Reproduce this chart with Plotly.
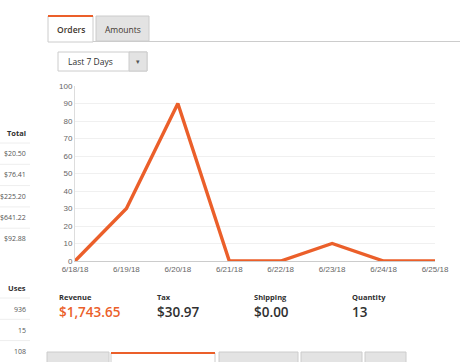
import plotly.graph_objects as go

dates = ["6/18/18", "6/19/18", "6/20/18", "6/21/18", "6/22/18", "6/23/18", "6/24/18", "6/25/18"]
orders = [0, 30, 90, 0, 0, 10, 0, 0]
y_ticks = [0, 10, 20, 30, 40, 50, 60, 70, 80, 90, 100]

tabs_top = ["Orders", "Amounts"]
period_label = "Last 7 Days"
totals = ["$20.50", "$76.41", "$225.20", "$641.22", "$92.88"]
uses = ["936", "15", "108"]
kpi_labels = ["Revenue", "Tax", "Shipping", "Quantity"]
kpi_values = ["$1,743.65", "$30.97", "$0.00", "13"]

W, H = 474, 362
L, R, T, B = 75, 435, 86, 261
ORANGE = "#eb5f2a"
UI_FONT = "Open Sans"

def px(x):
    return (x - L) / (R - L)

def py(y):
    return (B - y) / (B - T)

fig = go.Figure()
fig.add_trace(go.Scatter(
    x=list(range(len(dates))), y=orders, mode="lines",
    line=dict(color=ORANGE, width=3.4), hoverinfo="skip", showlegend=False,
))

shapes = []
ann = []

def rect(x0, y0, x1, y1, fill, line="#cccccc", lw=1):
    shapes.append(dict(type="rect", xref="paper", yref="paper",
                       x0=px(x0), x1=px(x1), y0=py(y1), y1=py(y0),
                       fillcolor=fill, line=dict(color=line, width=lw), layer="above"))

def hline(x0, x1, y, color="#e6e6e6", lw=1):
    shapes.append(dict(type="line", xref="paper", yref="paper",
                       x0=px(x0), x1=px(x1), y0=py(y), y1=py(y),
                       line=dict(color=color, width=lw), layer="above"))

def text(x, y, s, size=8, color="#333333", weight=400, xanchor="left", family=UI_FONT):
    ann.append(dict(xref="paper", yref="paper", x=px(x), y=py(y), text=s,
                    showarrow=False, xanchor=xanchor, yanchor="middle",
                    font=dict(size=size, color=color, family=family, weight=weight)))

# top tabs
hline(93, 460, 41.5, "#cccccc", 1)
rect(48, 16, 93, 42, "#ffffff", "#cccccc")
shapes.append(dict(type="rect", xref="paper", yref="paper", x0=px(48), x1=px(93), y0=py(17), y1=py(15),
                   fillcolor=ORANGE, line=dict(width=0), layer="above"))
rect(96, 16, 149, 41, "#e3e3e3", "#cccccc")
text(70.5, 29, tabs_top[0], size=8.5, color="#41362f", weight=600, xanchor="center")
text(122.5, 29, tabs_top[1], size=8.5, color="#41362f", xanchor="center")

# dropdown
rect(58, 52, 147, 71, "#ffffff", "#cccccc")
rect(129, 52, 147, 71, "#e3e3e3", "#cccccc")
text(66, 61.5, period_label, size=8.5, color="#303030")
text(138, 62, "▾", size=7, color="#555555", xanchor="center")

# left table
text(28, 133, "Total", size=7.5, color="#303030", weight=700, xanchor="right")
for i, v in enumerate(totals):
    hline(0, 30, 143 + i * 21.3, "#eeeeee")
    text(28, 153.5 + i * 21.3, v, size=7, color="#555555", xanchor="right")
text(28, 288, "Uses", size=7.5, color="#303030", weight=700, xanchor="right")
for i, v in enumerate(uses):
    hline(0, 30, 298 + i * 21.3, "#eeeeee")
    text(28, 309 + i * 21.3, v, size=7, color="#555555", xanchor="right")

# KPIs
kpi_x = [57, 155, 252, 350]
for i, (lab, val) in enumerate(zip(kpi_labels, kpi_values)):
    text(kpi_x[i], 297, lab, size=7.5, color="#303030", weight=700)
    text(kpi_x[i], 312, val, size=13.5, color=ORANGE if i == 0 else "#303030", weight=600)

# bottom tabs
bt = [(47, 109), (219, 298), (301, 362), (365, 406)]
for a, b in bt:
    rect(a, 352, b, 366, "#e3e3e3", "#cccccc")
rect(111, 353, 215, 366, "#ffffff", "#cccccc")
shapes.append(dict(type="rect", xref="paper", yref="paper", x0=px(111), x1=px(215), y0=py(354), y1=py(352),
                   fillcolor=ORANGE, line=dict(width=0), layer="above"))

fig.update_layout(
    width=W, height=H,
    margin=dict(l=L, r=W - R, t=T, b=H - B, pad=0),
    paper_bgcolor="#ffffff", plot_bgcolor="#ffffff",
    shapes=shapes, annotations=ann,
    xaxis=dict(range=[0, len(dates) - 1], tickmode="array", tickvals=list(range(len(dates))), ticktext=dates,
               showgrid=False, zeroline=False, showline=True, linecolor="#cccccc", linewidth=1,
               ticks="", tickfont=dict(size=8, color="#666666", family="Liberation Sans"), fixedrange=True),
    yaxis=dict(range=[0, 100], tickmode="array", tickvals=y_ticks,
               showgrid=True, gridcolor="#f0f0f0", gridwidth=1, zeroline=False,
               showline=True, linecolor="#dddddd", linewidth=1, ticks="", ticklen=0,
               tickfont=dict(size=8, color="#666666", family="Liberation Sans"), fixedrange=True),
    showlegend=False,
)

fig.write_html("out.html", config={"displayModeBar": False},
               post_script="document.body.style.margin='0';document.body.style.overflow='hidden';")
